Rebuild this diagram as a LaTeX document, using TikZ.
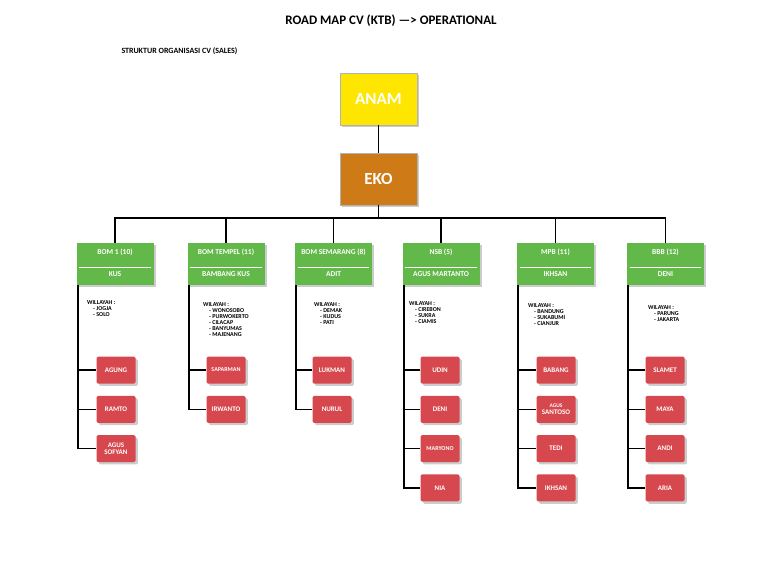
\documentclass[tikz,border=0pt]{standalone}
\usepackage{fontspec}
\setmainfont{Carlito}
\usetikzlibrary{shadows,calc}
\definecolor{BossYel}{RGB}{255,230,0}
\definecolor{MgrOra}{RGB}{206,122,22}
\definecolor{BomGrn}{RGB}{98,184,72}
\definecolor{StaffRed}{RGB}{214,72,78}
\begin{document}
\begin{tikzpicture}[x=1pt,y=-1pt,
    top/.style={draw=gray!60, minimum width=77pt, minimum height=52pt, font=\bfseries\fontsize{17}{17}\selectfont, text=white, drop shadow={opacity=0.4}},
    bom/.style={fill=BomGrn, minimum width=77pt, minimum height=42pt, drop shadow={opacity=0.4}},
    staff/.style={fill=StaffRed, minimum width=39pt, minimum height=27pt, rounded corners=1.5pt, text=white, font=\bfseries\fontsize{7}{7}\selectfont, align=center, inner sep=0pt, drop shadow={opacity=0.4}},
    area/.style={anchor=north west, font=\bfseries\fontsize{6}{6}\selectfont, align=left, inner sep=0pt},
    wire/.style={line width=1.2pt}
  ]
  \fill[white] (0,0) rectangle (768,563);
  \node[font=\bfseries\fontsize{13}{13}\selectfont] (title) at (391,21) {ROAD MAP CV (KTB) ---> OPERATIONAL};
  \node[font=\bfseries\fontsize{8}{8}\selectfont, anchor=west] (sub) at (118,51) {STRUKTUR ORGANISASI CV (SALES)};

  \node[top, fill=BossYel] (anam) at (378.5,99) {ANAM};
  \node[top, fill=MgrOra] (eko) at (378.5,179) {EKO};
  \draw[wire] (anam) -- (eko);
  \coordinate (busc) at (378.5,218);
  \draw[wire] (eko) -- (busc);

  % branches: center x, trunk x, head, lead, wilayah x, y, list
  \foreach \i/\cx/\tx/\hd/\ld/\wx/\wy/\ar in {
      1/115/78/{BOM 1 (10)}/KUS/87/300/{WILLAYAH :\\\quad - JOGJA\\\quad - SOLO},
      2/226/189/{BOM TEMPEL (11)}/BAMBANG KUS/203/302/{WILAYAH :\\\quad - WONOSOBO\\\quad - PURWOKERTO\\\quad - CILACAP\\\quad - BANYUMAS\\\quad - MAJENANG},
      3/333.5/296/{BOM SEMARANG (8)}/ADIT/314/302/{WILAYAH :\\\quad - DEMAK\\\quad - KUDUS\\\quad - PATI},
      4/441/404/{NSB (5)}/AGUS MARTANTO/409/301/{WILAYAH :\\\quad - CIREBON\\\quad - SUKRA\\\quad - CIAMIS},
      5/555.5/518/{MPB (11)}/IKHSAN/528/303/{WILAYAH :\\\quad - BANDUNG\\\quad - SUKABUMI\\\quad - CIANJUR},
      6/665.5/628/{BBB (12)}/DENI/648/305/{WILAYAH :\\\quad - PARUNG\\\quad - JAKARTA}} {
    \node[bom] (b\i) at (\cx,264) {};
    \draw[white, line width=0.6pt] ($(b\i.west)+(3,3)$) -- ($(b\i.east)+(-3,3)$);
    \node[text=white, font=\bfseries\fontsize{7.5}{7.5}\selectfont, inner sep=0pt] (h\i) at (\cx,252) {\hd};
    \node[text=white, font=\bfseries\fontsize{7.5}{7.5}\selectfont, inner sep=0pt] (l\i) at (\cx,274) {\ld};
    \coordinate (t\i) at (\tx,285);
    \node[area] (w\i) at (\wx,\wy) {\ar};
    \draw[wire] (b\i.north) |- (busc);
  }

  \foreach \b/\sx/\n/\nm in {1/116/1/AGUNG, 1/116/2/RAMTO, 1/116/3/{AGUS\\SOFYAN},
      2/226/1/{\fontsize{6}{6}\selectfont SAPARMAN}, 2/226/2/IRWANTO,
      3/332/1/LUKMAN, 3/332/2/NURUL,
      4/440/1/UDIN, 4/440/2/DENI, 4/440/3/{\fontsize{6}{6}\selectfont MARYONO}, 4/440/4/NIA,
      5/556/1/BABANG, 5/556/2/{\fontsize{5.5}{6}\selectfont AGUS\\SANTOSO}, 5/556/3/TEDI, 5/556/4/IKHSAN,
      6/665/1/SLAMET, 6/665/2/MAYA, 6/665/3/ANDI, 6/665/4/ARIA} {
    \pgfmathsetmacro{\sy}{370+39.3*(\n-1)}
    \node[staff] (s\b-\n) at (\sx,\sy) {\nm};
    \draw[wire] (t\b) |- (s\b-\n.west);
  }
\end{tikzpicture}
\end{document}
